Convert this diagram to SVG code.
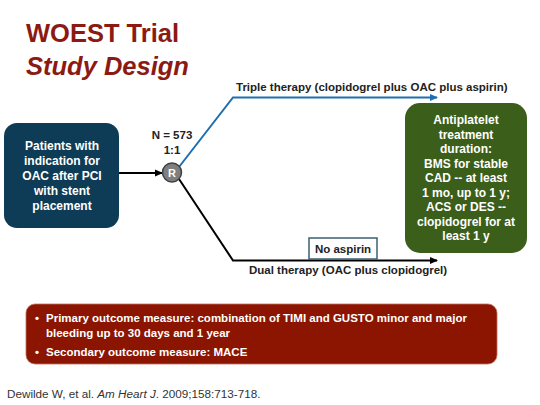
<svg xmlns="http://www.w3.org/2000/svg" width="540" height="405" viewBox="0 0 540 405">
<defs>
<style>
text{font-family:"Liberation Sans",Arial,sans-serif;}
.t{font-weight:bold;fill:#8C1A12;font-size:25.5px;}
.w{font-weight:bold;fill:#fff;font-size:12px;text-anchor:middle;}
.b{font-weight:bold;fill:#222;font-size:11.5px;}
.wl{font-weight:bold;fill:#fff;font-size:11.5px;}
</style>
<marker id="ab" markerWidth="8" markerHeight="8" refX="7" refY="4" orient="auto" markerUnits="userSpaceOnUse"><path d="M0,0.5 L8,4 L0,7.5 z" fill="#1F6FB0"/></marker>
<marker id="ak" markerWidth="8" markerHeight="8" refX="7" refY="4" orient="auto" markerUnits="userSpaceOnUse"><path d="M0,0.5 L8,4 L0,7.5 z" fill="#000"/></marker>
</defs>
<rect width="540" height="405" fill="#fff"/>
<text class="t" x="26" y="42">WOEST Trial</text>
<text class="t" x="26" y="75" font-style="italic">Study Design</text>

<g id="connectors">
<line x1="119" y1="173" x2="162" y2="173" stroke="#000" stroke-width="2" marker-end="url(#ak)"/>
<polyline points="179,167 233,97.5 437,97.5" fill="none" stroke="#1F6FB0" stroke-width="2" marker-end="url(#ab)"/>
<polyline points="179,179 233,260.5 437,260.5" fill="none" stroke="#000" stroke-width="2" marker-end="url(#ak)"/>
</g>

<g id="patients">
<rect x="4" y="123" width="115" height="105" rx="13" fill="#0E3B55"/>
<text class="w" x="62" y="150">Patients with</text>
<text class="w" x="62" y="165">indication for</text>
<text class="w" x="62" y="180">OAC after PCI</text>
<text class="w" x="62" y="195">with stent</text>
<text class="w" x="62" y="210">placement</text>
</g>

<g id="randomize">
<text class="b" x="172" y="139" text-anchor="middle">N = 573</text>
<text class="b" x="172" y="154" text-anchor="middle">1:1</text>
<circle cx="172" cy="172.5" r="9.5" fill="#7F7F7F" stroke="#404040" stroke-width="1.5"/>
<text x="172" y="177" text-anchor="middle" style="font-weight:bold;fill:#fff;font-size:11px">R</text>
</g>

<g id="triple">
<text class="b" x="236" y="91">Triple therapy (clopidogrel plus OAC plus aspirin)</text>
</g>
<g id="dual">
<text class="b" x="249" y="274">Dual therapy (OAC plus clopidogrel)</text>
</g>
<g id="noaspirin">
<rect x="309" y="238" width="68" height="21" fill="#fff" stroke="#3A6070" stroke-width="1.5"/>
<text class="b" x="343" y="253" text-anchor="middle">No aspirin</text>
</g>

<g id="antiplatelet">
<rect x="405" y="103" width="122" height="150" rx="15" fill="#3B5E1A"/>
<text class="w" x="466" y="124">Antiplatelet</text>
<text class="w" x="466" y="138.5">treatment</text>
<text class="w" x="466" y="153">duration:</text>
<text class="w" x="466" y="167.5">BMS for stable</text>
<text class="w" x="466" y="182">CAD -- at least</text>
<text class="w" x="466" y="196.5">1 mo, up to 1 y;</text>
<text class="w" x="466" y="211">ACS or DES --</text>
<text class="w" x="466" y="225.5">clopidogrel for at</text>
<text class="w" x="466" y="240">least 1 y</text>
</g>

<g id="outcomes">
<rect x="26" y="304" width="471" height="60" rx="9" fill="#8B1500" stroke="#C07060" stroke-width="0.8"/>
<text class="wl" x="35" y="322">•</text>
<text class="wl" x="46" y="322">Primary outcome measure: combination of TIMI and GUSTO minor and major</text>
<text class="wl" x="46" y="337">bleeding up to 30 days and 1 year</text>
<text class="wl" x="35" y="356">•</text>
<text class="wl" x="46" y="356">Secondary outcome measure: MACE</text>
</g>

<text x="7" y="398" style="font-size:11.7px;fill:#333">Dewilde W, et al. <tspan font-style="italic">Am Heart J</tspan>. 2009;158:713-718.</text>
</svg>
